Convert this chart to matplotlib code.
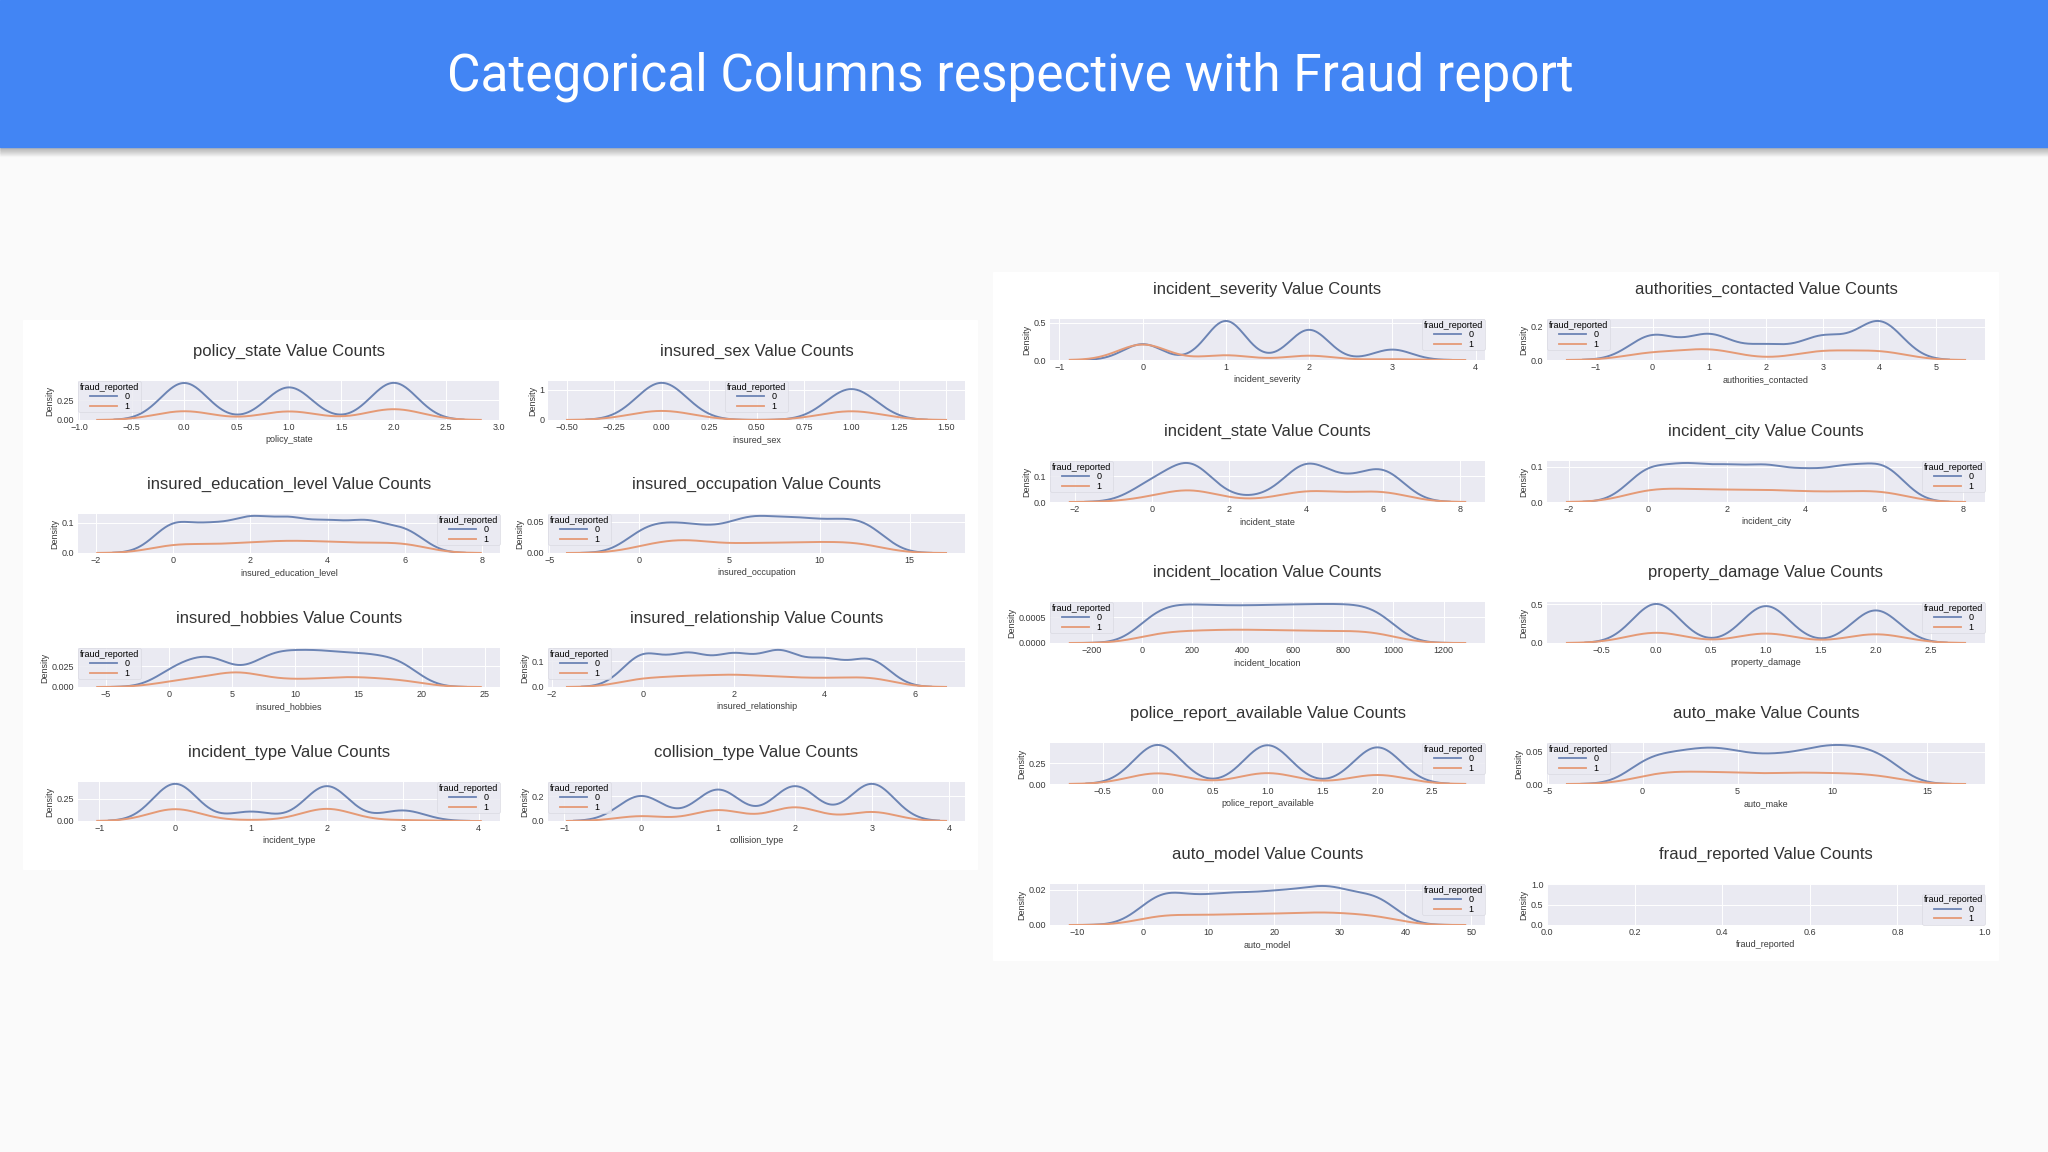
import math
import numpy as np
import matplotlib
matplotlib.use("Agg")
import matplotlib.pyplot as plt
from matplotlib.patches import Rectangle
from matplotlib.lines import Line2D

# value counts per label-encoded category, split by fraud_reported (0 / 1)
policy_state_0 = [261, 230, 262]
policy_state_1 = [77, 75, 95]
insured_sex_0 = [411, 342]
insured_sex_1 = [126, 121]
education_0 = [111, 95, 124, 119, 106, 111, 87]
education_1 = [34, 27, 36, 42, 38, 32, 38]
occupation_0 = [53, 49, 52, 48, 40, 43, 71, 58, 55, 64, 48, 57, 58, 57]
occupation_1 = [12, 20, 22, 28, 13, 11, 22, 13, 16, 21, 15, 19, 20, 15]
hobbies_0 = [36, 28, 33, 47, 50, 8, 9, 38, 46, 49, 39, 47, 46, 44, 34, 49, 38, 34, 41, 37]
hobbies_1 = [13, 6, 15, 9, 5, 38, 26, 5, 11, 6, 13, 7, 9, 13, 13, 15, 11, 7, 9, 16]
relationship_0 = [133, 130, 127, 143, 107, 113]
relationship_1 = [37, 44, 50, 40, 34, 42]
incident_type_0 = [305, 76, 286, 86]
incident_type_1 = [114, 8, 117, 8]
collision_type_0 = [147, 184, 204, 218]
collision_type_1 = [31, 70, 88, 58]
severity_0 = [125, 308, 238, 82]
severity_1 = [151, 46, 42, 8]
authorities_0 = [147, 150, 85, 138, 233]
authorities_1 = [49, 73, 6, 60, 59]
incident_state_0 = [90, 192, 17, 22, 189, 83, 160]
incident_state_1 = [20, 70, 6, 8, 59, 27, 57]
incident_city_0 = [109, 112, 106, 109, 92, 105, 120]
incident_city_1 = [43, 37, 35, 36, 30, 29, 37]
# incident_location: 1000 unique codes, counted in blocks of 100
location_0 = [76, 77, 75, 73, 74, 75, 76, 77, 76, 74]
location_1 = [24, 23, 25, 27, 26, 25, 24, 23, 24, 26]
property_damage_0 = [271, 256, 226]
property_damage_1 = [89, 82, 76]
police_report_0 = [257, 255, 241]
police_report_1 = [86, 88, 73]
auto_make_0 = [54, 46, 52, 58, 61, 52, 41, 52, 43, 62, 63, 62, 56, 51]
auto_make_1 = [14, 23, 20, 18, 19, 20, 14, 15, 22, 16, 17, 18, 14, 17]
auto_model_total = [18, 28, 25, 27, 37, 32, 13, 18, 20, 28, 22, 20, 27, 24, 27, 28, 21, 25, 22, 20,
                    35, 32, 15, 36, 20, 30, 24, 37, 33, 31, 43, 12, 22, 20, 24, 23, 42, 23, 16]
auto_model_1 = [4, 7, 6, 7, 9, 8, 3, 4, 5, 7, 5, 5, 7, 6, 7, 7, 5, 6, 5, 5,
                9, 8, 4, 9, 5, 7, 6, 9, 8, 8, 11, 3, 5, 5, 6, 6, 10, 6, 4]
auto_model_0 = list(np.array(auto_model_total) - np.array(auto_model_1))
fraud_0 = [753]
fraud_1 = [247]

W, H = 2048, 1152
BLUE = "#6c84b4"
ORANGE = "#e59a76"
FONT = ["Liberation Sans", "DejaVu Sans"]
erf = np.vectorize(math.erf)


def box(x0, y0, x1, y1):
    return [x0 / W, 1 - y1 / H, (x1 - x0) / W, (y1 - y0) / H]


def kde(vals, counts, n_total, width=0.0):
    # seaborn-style gaussian kde (scott bandwidth, cut=3, common_norm)
    vals = np.asarray(vals, float)
    c = np.asarray(counts, float)
    n = c.sum()
    mean = (c * vals).sum() / n
    var = (c * (vals - mean) ** 2).sum() / (n - 1) + width ** 2 / 12
    bw = math.sqrt(var) * n ** (-0.2)
    xs = np.linspace(vals.min() - width / 2 - 3 * bw, vals.max() + width / 2 + 3 * bw, 400)
    if width == 0:
        z = (xs[:, None] - vals[None, :]) / bw
        dens = (c * np.exp(-0.5 * z ** 2)).sum(1) / (bw * math.sqrt(2 * math.pi))
    else:
        a = (xs[:, None] - (vals - width / 2)) / (bw * math.sqrt(2))
        b = (xs[:, None] - (vals + width / 2)) / (bw * math.sqrt(2))
        dens = (c * 0.5 * (erf(a) - erf(b)) / width).sum(1)
    return xs, dens / n_total


fig = plt.figure(figsize=(W / 100, H / 100), dpi=100, facecolor="#fafafa")

# header band + soft shadow
for i in range(10):
    fig.patches.append(Rectangle((0, 1 - (147 + i) / H), 1, 1 / H, transform=fig.transFigure,
                                 color="#000000", alpha=0.10 * (1 - i / 10), zorder=0))
fig.patches.append(Rectangle((0, 1 - 147 / H), 1, 147 / H, transform=fig.transFigure,
                             color="#4285f4", zorder=1))
fig.text(1010 / W, 1 - 77 / H, "Categorical Columns respective with Fraud report", color="white",
         fontsize=37, family="Roboto", ha="center", va="center", zorder=2)

# white screenshot panels
for x0, y0, x1, y1 in [(23, 320, 977, 869), (993, 272, 1998, 960)]:
    fig.patches.append(Rectangle((x0 / W, 1 - y1 / H), (x1 - x0) / W, (y1 - y0) / H,
                                 transform=fig.transFigure, color="white", zorder=1))

L1, L2 = (78, 500), (548, 965)
R1, R2 = (1050, 1485), (1547, 1985)
ltops = [381, 514, 648, 782]
rtops = [319, 461, 602, 743, 884]

panels = [
    ("policy_state", policy_state_0, policy_state_1, 0, np.arange(-1, 3.01, 0.5), [0, 0.25], "upper left", L1, ltops[0], 39),
    ("insured_sex", insured_sex_0, insured_sex_1, 0, np.arange(-0.5, 1.51, 0.25), [0, 1], "upper center", L2, ltops[0], 39),
    ("insured_education_level", education_0, education_1, 0, [-2, 0, 2, 4, 6, 8], [0, 0.1], "upper right", L1, ltops[1], 39),
    ("insured_occupation", occupation_0, occupation_1, 0, [-5, 0, 5, 10, 15], [0, 0.05], "upper left", L2, ltops[1], 39),
    ("insured_hobbies", hobbies_0, hobbies_1, 0, [-5, 0, 5, 10, 15, 20, 25], [0, 0.025], "upper left", L1, ltops[2], 39),
    ("insured_relationship", relationship_0, relationship_1, 0, [-2, 0, 2, 4, 6], [0, 0.1], "upper left", L2, ltops[2], 39),
    ("incident_type", incident_type_0, incident_type_1, 0, [-1, 0, 1, 2, 3, 4], [0, 0.25], "upper right", L1, ltops[3], 39),
    ("collision_type", collision_type_0, collision_type_1, 0, [-1, 0, 1, 2, 3, 4], [0, 0.2], "upper left", L2, ltops[3], 39),
    ("incident_severity", severity_0, severity_1, 0, [-1, 0, 1, 2, 3, 4], [0, 0.5], "upper right", R1, rtops[0], 41),
    ("authorities_contacted", authorities_0, authorities_1, 0, [-1, 0, 1, 2, 3, 4, 5], [0, 0.2], "upper left", R2, rtops[0], 41),
    ("incident_state", incident_state_0, incident_state_1, 0, [-2, 0, 2, 4, 6, 8], [0, 0.1], "upper left", R1, rtops[1], 41),
    ("incident_city", incident_city_0, incident_city_1, 0, [-2, 0, 2, 4, 6, 8], [0, 0.1], "upper right", R2, rtops[1], 41),
    ("incident_location", location_0, location_1, 100, np.arange(-200, 1201, 200), [0, 0.0005], "upper left", R1, rtops[2], 41),
    ("property_damage", property_damage_0, property_damage_1, 0, np.arange(-1, 3.01, 0.5), [0, 0.5], "upper right", R2, rtops[2], 41),
    ("police_report_available", police_report_0, police_report_1, 0, np.arange(-0.5, 2.51, 0.5), [0, 0.25], "upper right", R1, rtops[3], 41),
    ("auto_make", auto_make_0, auto_make_1, 0, [-5, 0, 5, 10, 15], [0, 0.05], "upper left", R2, rtops[3], 41),
    ("auto_model", auto_model_0, auto_model_1, 0, [-10, 0, 10, 20, 30, 40, 50], [0, 0.02], "upper right", R1, rtops[4], 41),
    ("fraud_reported", fraud_0, fraud_1, 0, np.arange(0, 1.01, 0.2), [0, 0.5, 1.0], "lower right", R2, rtops[4], 41),
]

for name, c0, c1, width, xt, yt, loc, (xa, xb), top, h in panels:
    ax = fig.add_axes(box(xa, top, xb, top + h), facecolor="#eaeaf2", zorder=3)
    ntot = sum(c0) + sum(c1)
    if name == "fraud_reported":
        # single value per hue -> no kde drawn, empty axes
        ax.set_xticks(xt)
        ax.set_yticks(yt)
        ax.set_xlim(0, 1)
        ax.set_ylim(0, 1)
    else:
        if width:
            v = np.arange(len(c0)) * width + width / 2 - 0.5
        else:
            v = np.arange(len(c0))
        ymax = 0
        for c, col in [(c0, BLUE), (c1, ORANGE)]:
            xs, d = kde(v, c, ntot, width)
            ax.plot(xs, d, color=col, lw=1.4, zorder=3)
            ymax = max(ymax, d.max())
        ax.margins(x=0.05)
        xl = ax.get_xlim()
        ax.set_xticks(xt)
        ax.set_yticks(yt)
        ax.set_xlim(xl)
        ax.set_ylim(0, ymax * 1.05)
    for s in ax.spines.values():
        s.set_visible(False)
    ax.grid(True, color="white", lw=0.7)
    ax.set_axisbelow(True)
    ax.tick_params(length=0, labelsize=6.5, pad=2.5, colors="#3a3a3a")
    for t in ax.get_xticklabels() + ax.get_yticklabels():
        t.set_family(FONT)
    ax.set_xlabel(name, fontsize=6.5, family=FONT, color="#3a3a3a", labelpad=2)
    ax.set_ylabel("Density", fontsize=6.5, family=FONT, color="#3a3a3a", labelpad=2)
    ax.set_title(name + " Value Counts", fontsize=12, family=FONT, color="#333333", pad=18)
    handles = [Line2D([], [], color=BLUE, lw=1.3), Line2D([], [], color=ORANGE, lw=1.3)]
    leg = ax.legend(handles, ["0", "1"], title="fraud_reported", loc=loc, fontsize=6.5,
                    title_fontsize=6.5, frameon=True, facecolor="#eaeaf2", edgecolor="#d6d6de",
                    framealpha=0.85, borderpad=0.15, labelspacing=0.05, handlelength=3,
                    handletextpad=0.8, borderaxespad=0.05)
    leg.get_frame().set_linewidth(0.5)
    for t in leg.get_texts() + [leg.get_title()]:
        t.set_family(FONT)

fig.savefig("out.png", dpi=100, facecolor=fig.get_facecolor())
